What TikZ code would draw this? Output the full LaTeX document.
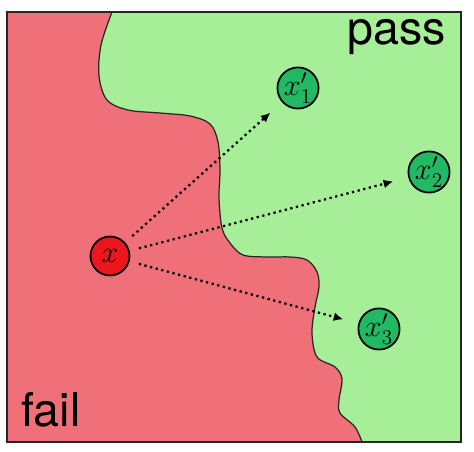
\documentclass[tikz,border=0pt]{standalone}
\usepackage{fontspec}
\usetikzlibrary{arrows.meta}
\newfontfamily\regionfont{TeX Gyre Heros}
\definecolor{failred}{RGB}{239,112,120}
\definecolor{passgreen}{RGB}{167,238,152}
\definecolor{seedred}{RGB}{236,22,28}
\definecolor{probegreen}{RGB}{34,185,100}

\begin{document}
\begin{tikzpicture}[x=0.02cm, y=-0.02cm,
    sample/.style={circle, draw=black, line width=1pt, minimum size=0.76cm, inner sep=0pt, font=\fontsize{17.28}{20}\selectfont},
    probe/.style={dotted, line width=1.3pt, -{Latex[length=5.5pt,width=5pt]}, shorten <=0.19cm, shorten >=0.31cm},
    region/.style={font=\regionfont\fontsize{26.5}{30}\selectfont, inner sep=0pt, anchor=base west}]
    \useasboundingbox (0,0) rectangle (474,452);
    % Pass side fills the whole square
    \fill[passgreen] (7,12) rectangle (461,442);
    % Fail side, bounded by the wavy decision border
    \filldraw[fill=failred, draw=black!85, line width=0.7pt] (7,12) -- plot[smooth, tension=0.55] coordinates {
      (112,12) (101,45) (99,76) (107,100) (128,110) (160,113) (190,116) (210,124) (218,142)
      (220,170) (219,198) (222,228) (230,243) (243,255) (267,257) (290,257) (307,260) (317,272)
      (319,287) (315,307) (312,333) (317,357) (335,367) (342,379) (339,400) (340,413) (355,427) (362,442)
    } -- (7,442) -- cycle;
    % Outer square
    \draw[black!85, line width=1.1pt] (7,12) rectangle (461,442);
    % Region labels
    \node[region] (passlbl) at (347,45) {pass};
    \node[region] (faillbl) at (21,427) {fail};
    % Input and its perturbed samples
    \node[sample, fill=seedred, minimum size=0.78cm] (x) at (110,256) {$x$};
    \node[sample, fill=probegreen] (x1) at (298,88) {$x'_1$};
    \node[sample, fill=probegreen] (x2) at (429,172) {$x'_2$};
    \node[sample, fill=probegreen] (x3) at (379,329) {$x'_3$};
    % Perturbation directions
    \foreach \t in {x1,x2,x3} {
      \draw[probe] (x) -- (\t);
    }
\end{tikzpicture}
\end{document}
